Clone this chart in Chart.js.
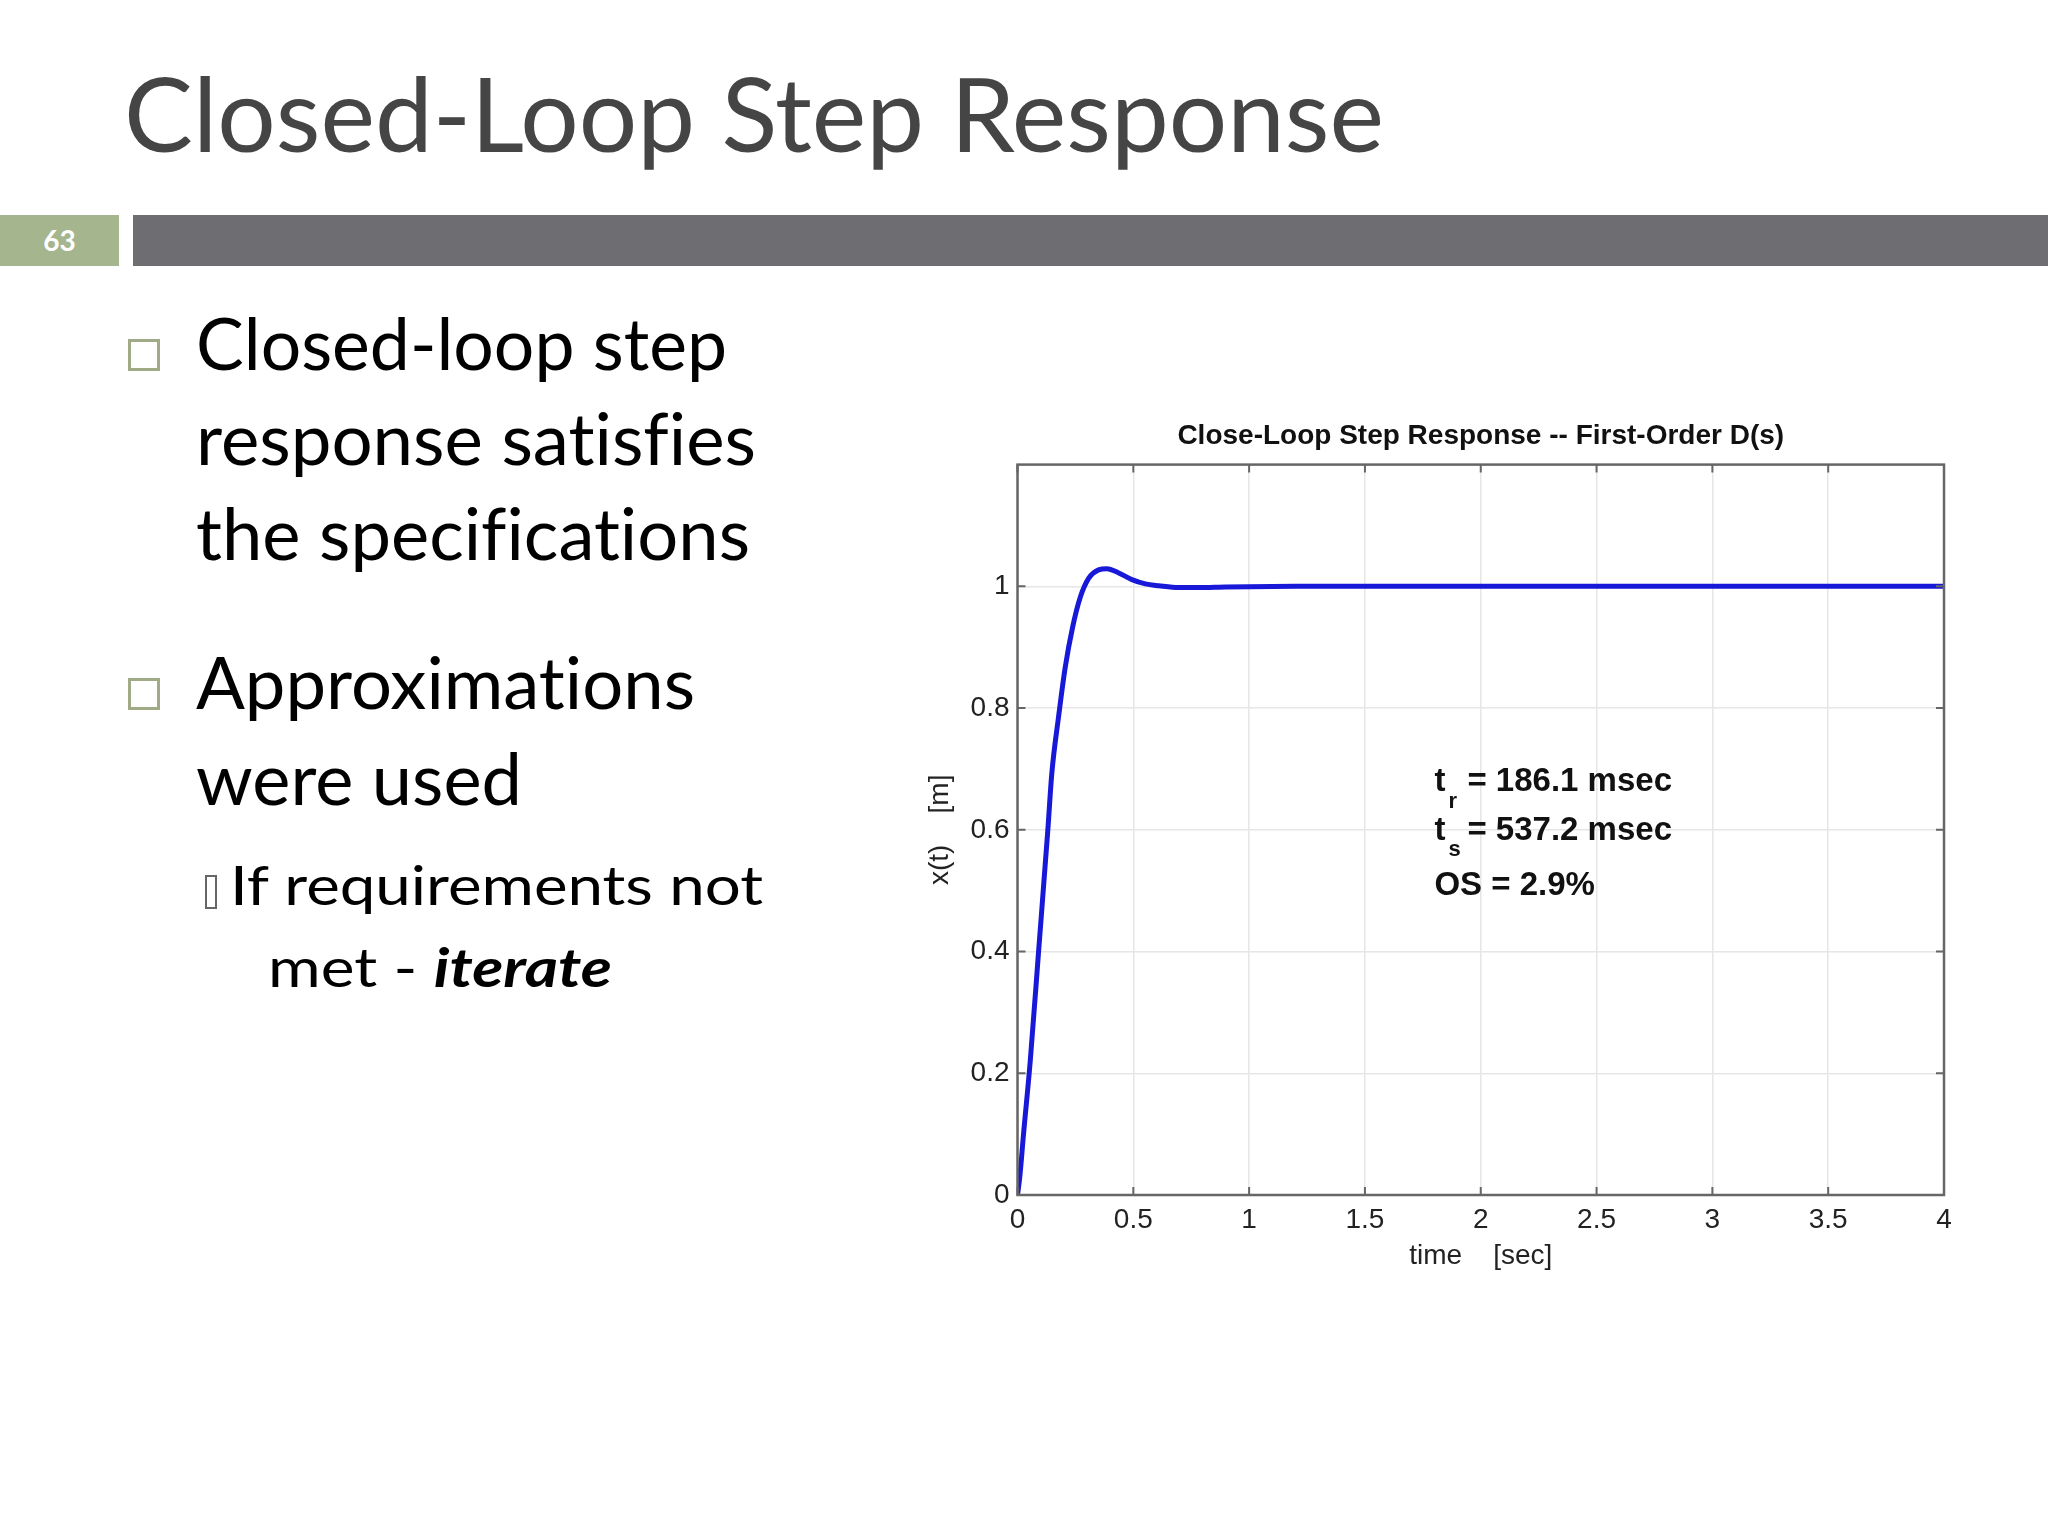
<!DOCTYPE html>
<html>
<head>
<meta charset="utf-8">
<title>Closed-Loop Step Response</title>
<script src="https://cdn.jsdelivr.net/npm/chart.js@4.4.0/dist/chart.umd.min.js"></script>
<style>
  body { margin: 0; width: 2048px; height: 1536px; background: #fff; position: relative; overflow: hidden; font-family: Lato, "Open Sans", sans-serif; font-variant-ligatures: none; }
  .ln { position: absolute; white-space: nowrap; line-height: 1; transform-origin: 0 0; color: #000; }
  .head { color: #454545; }
  .num { position: absolute; left: 0; top: 215px; width: 119px; height: 51px; background: #a5b68f; }
  .num span { position: absolute; left: 0; width: 119px; top: 10px; text-align: center; color: #fff; font-weight: bold; font-size: 28px; line-height: 30px; }
  .bar { position: absolute; left: 133px; top: 215px; width: 1915px; height: 51px; background: #6e6e72; }
  .sq { position: absolute; width: 26px; height: 26px; border: 3px solid #a0aa86; }
  .tofu { position: absolute; left: 205px; top: 875px; width: 8px; height: 30px; border: 2px solid #666; }
  #chartBox { position: absolute; left: 880px; top: 402px; }
</style>
</head>
<body>
<div class="ln head" data-fs="103" data-base="152" data-w="1260" style="left:124px">Closed-Loop Step Response</div>
<div class="num"><span>63</span></div>
<div class="bar"></div>

<div class="sq" style="left:128px; top:339px"></div>
<div class="ln" data-fs="72" data-base="370" data-w="531" style="left:196px">Closed-loop step</div>
<div class="ln" data-fs="72" data-base="465" data-w="560" style="left:196px">response satisfies</div>
<div class="ln" data-fs="72" data-base="560" data-w="554" style="left:196px">the specifications</div>

<div class="sq" style="left:128px; top:678px"></div>
<div class="ln" data-fs="72" data-base="709" data-w="499" style="left:196px">Approximations</div>
<div class="ln" data-fs="72" data-base="805" data-w="326" style="left:196px">were used</div>

<div class="tofu"></div>
<div class="ln" data-fs="54" data-base="906" data-w="533" style="left:230px">If requirements not</div>
<div class="ln" data-fs="54" data-base="988" data-w="344" style="left:268px">met - <b><i>iterate</i></b></div>

<div id="chartBox"><canvas id="stepChart" width="1120" height="900"></canvas></div>

<script>
// slide text: place by baseline, stretch a little to the widths in the slide
document.querySelectorAll('.ln').forEach(function(el) {
    var fs = +el.dataset.fs;
    el.style.fontSize = fs + 'px';
    el.style.top = (+el.dataset.base - 0.887 * fs) + 'px';
    var w = el.getBoundingClientRect().width;
    el.style.transform = 'scaleX(' + (+el.dataset.w / w) + ')';
});

// step response
var timeSec  = [0, 0.010, 0.026, 0.055, 0.091, 0.131, 0.148, 0.177, 0.206, 0.238, 0.271, 0.307, 0.350, 0.386, 0.437, 0.494, 0.552, 0.610, 0.696, 0.782, 0.900, 1.2, 1.6, 2, 2.5, 3, 3.5, 4];
var position = [0, 0.030, 0.100, 0.220, 0.400, 0.600, 0.692, 0.785, 0.867, 0.933, 0.982, 1.013, 1.027, 1.029, 1.022, 1.011, 1.004, 1.001, 0.998, 0.998, 0.999, 1, 1, 1, 1, 1, 1, 1];

var xTicks = [0, 0.5, 1, 1.5, 2, 2.5, 3, 3.5, 4];
var xTickLabels = ['0', '0.5', '1', '1.5', '2', '2.5', '3', '3.5', '4'];
var yTicks = [0, 0.2, 0.4, 0.6, 0.8, 1];
var yTickLabels = ['0', '0.2', '0.4', '0.6', '0.8', '1'];

var chartTitle = 'Close-Loop Step Response -- First-Order D(s)';
var xTitle = 'time    [sec]';
var yTitle = 'x(t)    [m]';

var specNames = ['t', 't', 'OS'];
var specSubs = ['r', 's', ''];
var specValues = ['= 186.1 msec', '= 537.2 msec', ' = 2.9%'];

var axFont = { family: 'Liberation Sans, Arial, sans-serif', size: 28 };
var ink = '#222';

// MATLAB style box with the ticks pointing inwards
var boxPlugin = {
    id: 'matlabBox',
    afterDraw: function(chart) {
        var ctx = chart.ctx, a = chart.chartArea;
        var xs = chart.scales.x, ys = chart.scales.y;
        ctx.save();
        ctx.strokeStyle = '#666';
        ctx.lineWidth = 2;
        ctx.beginPath();
        xTicks.forEach(function(v) {
            var px = xs.getPixelForValue(v);
            ctx.moveTo(px, a.bottom); ctx.lineTo(px, a.bottom - 8);
            ctx.moveTo(px, a.top); ctx.lineTo(px, a.top + 8);
        });
        yTicks.forEach(function(v) {
            var py = ys.getPixelForValue(v);
            ctx.moveTo(a.left, py); ctx.lineTo(a.left + 8, py);
            ctx.moveTo(a.right, py); ctx.lineTo(a.right - 8, py);
        });
        ctx.stroke();
        ctx.lineWidth = 2.5;
        ctx.strokeRect(a.left, a.top, a.right - a.left, a.bottom - a.top);
        ctx.restore();
    }
};

// rise time / settling time / overshoot text
var specPlugin = {
    id: 'specText',
    afterDraw: function(chart) {
        var ctx = chart.ctx;
        var x0 = chart.scales.x.getPixelForValue(1.8);
        var rows = [0.678, 0.599, 0.508];
        var big = 'bold 33px Liberation Sans, Arial, sans-serif';
        ctx.save();
        ctx.fillStyle = '#111';
        ctx.textBaseline = 'middle';
        rows.forEach(function(v, i) {
            var y = chart.scales.y.getPixelForValue(v);
            ctx.font = big;
            ctx.fillText(specNames[i], x0, y);
            var w = ctx.measureText(specNames[i]).width;
            if (specSubs[i]) {
                ctx.font = 'bold 22px Liberation Sans, Arial, sans-serif';
                ctx.fillText(specSubs[i], x0 + 14, y + 20);
                ctx.font = big;
                ctx.fillText(specValues[i], x0 + 33, y);
            } else {
                ctx.fillText(specValues[i], x0 + w, y);
            }
        });
        ctx.restore();
    }
};

var stepChart = new Chart(document.getElementById('stepChart'), {
    type: 'line',
    data: {
        datasets: [{
            data: timeSec.map(function(t, i) { return { x: t, y: position[i] }; }),
            borderColor: '#1818d8',
            borderWidth: 5,
            pointRadius: 0,
            fill: false,
            cubicInterpolationMode: 'monotone'
        }]
    },
    options: {
        responsive: false,
        animation: false,
        layout: { padding: { left: 0, right: 56, top: 0, bottom: 0 } },
        plugins: {
            legend: { display: false },
            tooltip: { enabled: false },
            title: {
                display: true,
                text: chartTitle,
                fullSize: false,
                color: '#111',
                font: { family: 'Liberation Sans, Arial, sans-serif', size: 28, weight: 'bold' },
                padding: { top: 17, bottom: 12 }
            }
        },
        scales: {
            x: {
                type: 'linear',
                min: 0,
                max: 4,
                afterBuildTicks: function(s) { s.ticks = xTicks.map(function(v) { return { value: v }; }); },
                afterFit: function(s) { s.height = 107; },
                grid: { color: '#e6e6e6', lineWidth: 1.5, drawTicks: false },
                border: { display: false },
                ticks: {
                    padding: 8,
                    color: ink,
                    font: axFont,
                    maxRotation: 0,
                    callback: function(v, i) { return xTickLabels[i]; }
                },
                title: { display: true, text: xTitle, color: ink, font: axFont, padding: { top: 0, bottom: 29 } }
            },
            y: {
                min: 0,
                max: 1.2,
                afterBuildTicks: function(s) { s.ticks = yTicks.map(function(v) { return { value: v }; }); },
                afterFit: function(s) { s.width = 137.5; },
                grid: { color: '#e6e6e6', lineWidth: 1.5, drawTicks: false },
                border: { display: false },
                ticks: {
                    padding: 8,
                    color: ink,
                    font: axFont,
                    callback: function(v, i) { return yTickLabels[i]; }
                },
                title: { display: true, text: yTitle, color: ink, font: axFont, padding: { top: 43, bottom: 0 } }
            }
        }
    },
    plugins: [boxPlugin, specPlugin]
});
</script>
</body>
</html>
